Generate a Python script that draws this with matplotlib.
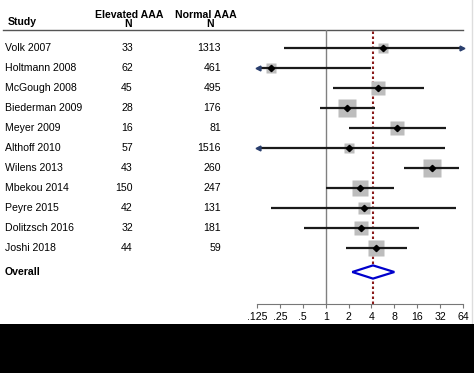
import numpy as np
import matplotlib
matplotlib.use("Agg")
import matplotlib.pyplot as plt
from matplotlib.patches import Rectangle

plt.rcParams['font.family'] = ['Liberation Sans', 'DejaVu Sans']

studies = ["Volk 2007", "Holtmann 2008", "McGough 2008", "Biederman 2009", "Meyer 2009",
           "Althoff 2010", "Wilens 2013", "Mbekou 2014", "Peyre 2015", "Dolitzsch 2016",
           "Joshi 2018"]
n_elevated = [33, 62, 45, 28, 16, 57, 43, 150, 42, 32, 44]
n_normal = [1313, 461, 495, 176, 81, 1516, 260, 247, 131, 181, 59]
estimate = [5.6, 0.19, 4.9, 1.93, 8.75, 2.0, 24.7, 2.83, 3.16, 2.91, 4.6]
ci_low = [0.28, 0.05, 1.25, 0.83, 2.02, 0.05, 10.7, 1.01, 0.19, 0.52, 1.83]
ci_high = [100, 4.0, 19.8, 4.4, 37.8, 36.7, 57, 7.9, 51.7, 16.7, 11.6]
weights = [4.8, 4.8, 9.3, 13.8, 9.3, 4.8, 13.8, 12.2, 5.8, 9.3, 12.2]
overall = (4.19, 2.24, 8.0)
xticks = [0.125, 0.25, 0.5, 1, 2, 4, 8, 16, 32, 64]
xticklabels = [".125", ".25", ".5", "1", "2", "4", "8", "16", "32", "64"]

W, H = 474, 373
fig = plt.figure(figsize=(W / 100, H / 100), dpi=100)

# row units: row i sits at pixel 48 + 20*i
def py(p):
    return (p - 48) / 20.0

# table axes over the whole figure (x in pixels)
tab = fig.add_axes([0, 0, 1, 1])
tab.set_xlim(0, W)
tab.set_ylim(py(H), py(0))
tab.axis("off")

fs = 7.6
tab.text(8, py(22), "Study", fontsize=fs, fontweight="bold", va="center", ha="left")
tab.text(129, py(15), "Elevated AAA", fontsize=fs, fontweight="bold", va="center", ha="center")
tab.text(128, py(24), "N", fontsize=fs, fontweight="bold", va="center", ha="center")
tab.text(206, py(15), "Normal AAA", fontsize=fs, fontweight="bold", va="center", ha="center")
tab.text(210, py(24), "N", fontsize=fs, fontweight="bold", va="center", ha="center")
tab.plot([3, 463], [py(30), py(30)], color="#555555", lw=1)
tab.plot([472, 472], [py(0), py(324)], color="#dddddd", lw=1)

for i, s in enumerate(studies):
    tab.text(5, i, s, fontsize=fs, va="center", ha="left")
    tab.text(133, i, str(n_elevated[i]), fontsize=fs, va="center", ha="right")
    tab.text(221, i, str(n_normal[i]), fontsize=fs, va="center", ha="right")
y_over = py(272)
tab.text(5, y_over, "Overall", fontsize=fs, fontweight="bold", va="center", ha="left")

# forest axes
left, right, top, bottom = 250, 470, 30, 304
ax = fig.add_axes([left / W, (H - bottom) / H, (right - left) / W, (bottom - top) / H])
ax.patch.set_alpha(0)
ax.set_xscale("log", base=2)
ppd = (463 - 257) / 9.0
ax.set_xlim(2 ** (-3 - 7 / ppd), 2 ** (6 + 7 / ppd))
ax.set_ylim(py(bottom), py(top))
for sp in ["top", "left", "right"]:
    ax.spines[sp].set_visible(False)
ax.spines["bottom"].set_bounds(0.125, 64)
ax.spines["bottom"].set_color("#777777")
ax.set_yticks([])
ax.set_xticks(xticks)
ax.set_xticklabels(xticklabels)
ax.minorticks_off()
ax.tick_params(axis="x", length=3, color="#777777", labelsize=fs, pad=3)

ax.axvline(1, color="#808080", lw=1, zorder=1)
ax.axvline(overall[0], color="#8b1a1a", lw=1.5, ls=(0, (1.2, 1.2)), zorder=1)

lo_lim, hi_lim = 0.13, 62
for i in range(len(studies)):
    lo = max(ci_low[i], lo_lim)
    hi = min(ci_high[i], hi_lim)
    ax.plot([lo, hi], [i, i], color="#1a1a1a", lw=1.6, zorder=3, solid_capstyle="butt")
    if ci_low[i] < 0.125:
        ax.plot([lo_lim], [i], marker="<", color="#2a3f6e", ms=3.5, zorder=4)
    if ci_high[i] > 64:
        ax.plot([hi_lim], [i], marker=">", color="#2a3f6e", ms=3.5, zorder=4)
    ax.plot([estimate[i]], [i], marker="s", color="#bdbdbd", mec="none",
            ms=3.3 * np.sqrt(weights[i]), zorder=2)
    ax.plot([estimate[i]], [i], marker="D", color="black", ms=3.2, zorder=5)

est, olo, ohi = overall
h = 0.33
ax.fill([olo, est, ohi, est, olo], [y_over, y_over - h, y_over, y_over + h, y_over],
        facecolor="white", edgecolor="#0000cc", lw=1.6, zorder=3)

fig.add_artist(Rectangle((0, 0), 1, (H - 324) / H, transform=fig.transFigure,
                         facecolor="black", edgecolor="none"))

fig.savefig("out.png", dpi=100)
